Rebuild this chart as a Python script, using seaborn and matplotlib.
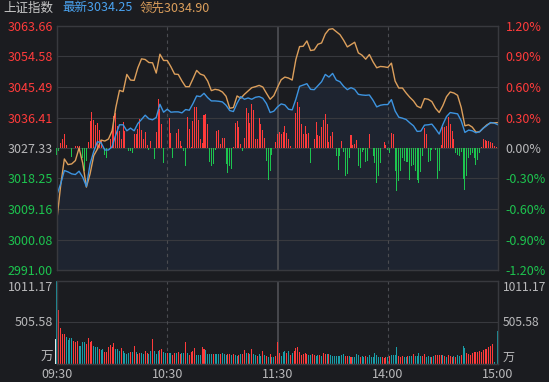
#!/usr/bin/env python3

import matplotlib
matplotlib.use("Agg")
import matplotlib.pyplot as plt
import seaborn as sns


# ------------------ DATA ------------------

prev_close = 3027.33
last_price = 3034.25
lead_price = 3034.90

# minute index 0..240 (09:30-11:30, 13:00-15:00), lines sampled every 2 minutes
price_minutes = list(range(0, 241, 2))

price = [
    3013.51, 3016.67, 3020.62, 3020.22, 3019.63, 3019.43, 3020.42, 3018.64, 3015.88, 3022.59,
    3026.34, 3029.21, 3028.91, 3026.74, 3026.74, 3027.72, 3031.28, 3034.24, 3034.24, 3032.46,
    3033.25, 3032.46, 3034.63, 3035.82, 3037.10, 3036.02, 3035.72, 3036.41, 3040.36, 3037.99,
    3038.88, 3037.99, 3038.09, 3038.09, 3037.79, 3038.78, 3038.58, 3040.56, 3042.83, 3042.63,
    3043.62, 3042.33, 3041.35, 3041.35, 3041.25, 3041.05, 3040.06, 3038.48, 3038.19, 3040.65,
    3042.63, 3041.84, 3042.23, 3041.84, 3042.43, 3042.63, 3042.14, 3040.56, 3037.89, 3038.29,
    3039.57, 3040.46, 3040.16, 3038.88, 3038.68, 3041.84, 3045.69, 3046.08, 3046.48, 3044.80,
    3044.70, 3045.89, 3047.07, 3049.24, 3048.45, 3049.54, 3047.56, 3047.07, 3045.69, 3044.70,
    3045.29, 3044.80, 3043.32, 3043.12, 3043.02, 3043.12, 3041.54, 3039.57, 3040.06, 3040.26,
    3040.26, 3041.74, 3038.38, 3036.51, 3036.21, 3035.82, 3034.83, 3033.94, 3032.27, 3032.36,
    3034.14, 3034.24, 3034.44, 3033.05, 3031.48, 3034.34, 3036.71, 3037.89, 3037.69, 3037.50,
    3035.42, 3031.97, 3032.66, 3032.46, 3031.87, 3032.17, 3033.25, 3034.04, 3034.93, 3034.73,
    3034.25,
]

lead = [
    3006.31, 3016.18, 3024.07, 3022.39, 3022.59, 3023.58, 3027.33, 3022.79, 3015.68, 3019.63,
    3025.06, 3027.03, 3029.70, 3029.40, 3029.99, 3032.46, 3039.37, 3044.50, 3044.11, 3049.24,
    3047.56, 3047.46, 3051.22, 3053.88, 3053.68, 3052.79, 3052.70, 3049.64, 3055.26, 3053.39,
    3053.39, 3051.51, 3049.34, 3049.24, 3047.27, 3045.59, 3045.59, 3047.96, 3050.43, 3049.34,
    3048.95, 3047.27, 3044.41, 3044.80, 3044.60, 3044.01, 3042.73, 3039.17, 3039.37, 3042.83,
    3042.14, 3043.32, 3044.31, 3045.29, 3045.59, 3045.98, 3045.49, 3043.62, 3041.84, 3042.92,
    3045.39, 3047.66, 3048.45, 3048.16, 3047.56, 3053.68, 3057.53, 3057.63, 3059.21, 3056.35,
    3056.55, 3058.22, 3058.62, 3061.28, 3062.66, 3062.86, 3061.97, 3061.09, 3059.41, 3057.43,
    3058.12, 3058.82, 3055.66, 3054.97, 3053.78, 3055.16, 3052.99, 3051.22, 3051.61, 3051.51,
    3051.31, 3052.60, 3047.27, 3045.19, 3045.19, 3043.71, 3042.43, 3041.35, 3039.77, 3039.27,
    3042.04, 3041.84, 3041.15, 3039.17, 3037.89, 3039.96, 3042.63, 3044.01, 3043.71, 3043.02,
    3039.37, 3033.94, 3034.24, 3033.55, 3032.07, 3032.17, 3033.25, 3034.24, 3034.83, 3034.83,
    3034.90,
]

# buy/sell strength bars around the zero line, one per minute
power = [
    -20, -8, 14, 27, 42, 10, 0, 0, -26, 0,
    5, 6, 5, 0, -30, -68, -40, 17, 80, 107,
    84, 70, 75, 54, 24, 0, -20, -30, 0, 27,
    60, 97, 104, 67, 50, 27, 77, 50, 0, -8,
    -8, -15, 42, 42, 57, 87, 54, 27, 47, 10,
    -5, 20, 0, -32, 47, 147, 117, 72, -45, 0,
    0, 90, 45, -30, 0, 44, 57, 20, 7, -8,
    -55, 92, 57, 4, 80, 122, 122, 84, 27, 14,
    100, 102, 72, -42, -55, -48, -5, 52, 54, 12,
    30, 30, -48, -75, -55, -62, 3, 74, 80, 62,
    12, -8, 30, 120, 104, 74, 132, 114, 27, 27,
    90, 72, 54, 30, -38, -95, -70, -20, 0, 17,
    42, 47, 42, 47, 67, 45, 27, 7, 0, 0,
    104, 137, 122, 72, 42, 67, 42, 44, -45, 0,
    27, 77, 40, 37, 62, 84, 102, 72, 17, 37,
    47, 0, -25, -65, -25, 20, -12, -83, -78, -30,
    39, 10, 12, 24, -55, -60, -12, -5, -42, -40,
    42, 0, -25, -45, -105, -85, -45, 0, 17, 10,
    -5, -15, 44, 42, -70, -130, -98, -70, -30, -40,
    -43, -42, -95, -55, -52, -70, -95, -105, -72, -25,
    60, 42, -42, -40, -5, 0, -5, -92, -70, 10,
    62, 64, 67, 92, 72, 50, 27, -15, -22, -25,
    -12, -92, -125, -85, -30, -22, -15, -30, -52, -35,
    -15, 2, 27, 24, 22, 20, 17, 14, 7, 4,
    0,
]

# volume per minute (万), r = up minute, t = down minute
volume = [
    1011, 655, 437, 360, 360, 332, 291, 311, 320, 279,
    271, 279, 218, 218, 267, 267, 243, 315, 271, 283,
    218, 210, 202, 178, 170, 186, 146, 146, 202, 235,
    210, 251, 182, 182, 158, 190, 158, 138, 121, 129,
    146, 146, 218, 146, 121, 129, 129, 121, 162, 129,
    121, 162, 303, 154, 121, 162, 170, 178, 146, 138,
    129, 138, 129, 109, 138, 138, 146, 121, 129, 138,
    267, 129, 109, 142, 158, 190, 109, 109, 113, 206,
    186, 170, 121, 121, 117, 125, 117, 117, 125, 125,
    129, 117, 113, 125, 125, 105, 125, 109, 97, 109,
    121, 121, 170, 129, 129, 121, 178, 121, 113, 101,
    121, 97, 154, 105, 97, 89, 117, 89, 89, 100,
    271, 129, 97, 146, 162, 129, 162, 109, 129, 158,
    190, 202, 142, 109, 121, 129, 117, 109, 109, 117,
    109, 101, 109, 113, 101, 129, 121, 117, 121, 109,
    97, 97, 97, 101, 97, 109, 121, 97, 97, 97,
    89, 89, 89, 121, 109, 89, 97, 81, 97, 81,
    105, 81, 89, 129, 109, 89, 89, 81, 73, 81,
    89, 97, 109, 109, 109, 210, 97, 89, 97, 89,
    89, 101, 93, 93, 117, 97, 93, 129, 97, 97,
    117, 89, 97, 89, 89, 97, 105, 105, 113, 109,
    109, 97, 89, 105, 97, 89, 97, 89, 105, 97,
    109, 218, 194, 129, 121, 109, 129, 142, 146, 150,
    158, 150, 170, 178, 182, 202, 218, 239, 20, 0,
    405,
]

vol_dir = (
    "trrrrttttr" "rrttttrrrr" "tttrttrrrr" "rrtttrtttt" "rtrtrrttrr"
    "ttrtttrrtt" "rttrrtrrtt" "rtrrrrtttr" "rttttrtttr" "tttrrtrttr"
    "trrtrtrttr" "ttrtrtrttr" "rrtttrtrtr" "rrrrrrrttr" "rttrtrrtrt"
    "tttttttrrt" "rttttrttrt" "tttttttrrr" "trttttrrrt" "trttrttttr"
    "rtttrtrrrr" "trtrrrtrtt" "rttrrrrrrr" "rrrrrrrrtt" "t"
)

auction_volume = 303

price_ticks = [3063.66, 3054.58, 3045.49, 3036.41, 3027.33,
               3018.25, 3009.16, 3000.08, 2991.00]
pct_labels = ["1.20%", "0.90%", "0.60%", "0.30%", "0.00%",
              "-0.30%", "-0.60%", "-0.90%", "-1.20%"]
vol_ticks = [1011.17, 505.58, 0]
vol_labels = ["1011.17", "505.58", "万"]
time_ticks = [0, 60, 120, 180, 240]
time_labels = ["09:30", "10:30", "11:30", "14:00", "15:00"]


# ------------------ STYLE ------------------

BG = "#1b1c20"
FILL = "#1e2430"
GRID = "#38393e"
SEP = "#4b4c51"
RED = "#ff3b3b"
GREEN = "#1dc44f"
TEAL = "#1a9ea8"
BLUE = "#3d94e0"
ORANGE = "#dc9f5c"
TEXT = "#b9b9bb"

sns.set_style("dark", {
    "axes.facecolor": BG,
    "figure.facecolor": BG,
    "axes.edgecolor": GRID,
    "axes.grid": False,
})
plt.rcParams["font.family"] = ["Noto Sans CJK SC", "DejaVu Sans"]
plt.rcParams["font.size"] = 9


def level_color(v):
    if abs(v - prev_close) < 0.005:
        return TEXT
    return RED if v > prev_close else GREEN


def style_spines(a):
    for s in a.spines.values():
        s.set_color(GRID)
        s.set_linewidth(0.9)


def va_for(v):
    if v == vol_ticks[0]:
        return "top"
    if v == 0:
        return "bottom"
    return "center"


# ------------------ PLOTTING ------------------

fig = plt.figure(figsize=(5.49, 3.82), dpi=100)

# ---------------- price panel ----------------
ax = fig.add_axes([57 / 549, 112 / 382, 441 / 549, 244 / 382])
ax.set_xlim(0, 240)
ax.set_ylim(price_ticks[-1], price_ticks[0])
ax.fill_between(price_minutes, price, price_ticks[-1], color=FILL, lw=0, zorder=0.5)

for v in price_ticks[1:-1]:
    ax.axhline(v, color=GRID, lw=0.8, zorder=1)
for t in (60, 180):
    ax.axvline(t, color=SEP, lw=0.8, ls=(0, (3, 3)), zorder=1)
ax.axvline(120, color=SEP, lw=1.3, zorder=1)

ax.set_xticks([])
ax.set_yticks(price_ticks)
ax.set_yticklabels([f"{v:.2f}" for v in price_ticks])
for lab, v in zip(ax.get_yticklabels(), price_ticks):
    lab.set_color(level_color(v))
ax.tick_params(axis="y", length=0, pad=3, labelsize=9)
style_spines(ax)

# strength bars on their own scale
axb = ax.twinx()
axb.set_ylim(-366, 366)
axb.bar(range(len(power)), power, width=0.55, linewidth=0, antialiased=False,
        color=[RED if p > 0 else GREEN for p in power], clip_on=False)
axb.set_axis_off()

# lines on top
axl = ax.twinx()
sns.lineplot(x=price_minutes, y=lead, ax=axl, color=ORANGE, linewidth=1.0)
sns.lineplot(x=price_minutes, y=price, ax=axl, color=BLUE, linewidth=1.0)
axl.set_xlim(0, 240)
axl.set_ylim(price_ticks[-1], price_ticks[0])
axl.set_ylabel("")
axl.set_xlabel("")
axl.set_yticks(price_ticks)
axl.set_yticklabels(pct_labels)
for lab, v in zip(axl.get_yticklabels(), price_ticks):
    lab.set_color(level_color(v))
axl.tick_params(axis="y", length=0, pad=5.5, labelsize=9)
style_spines(axl)

# ---------------- volume panel ----------------
axv = fig.add_axes([57 / 549, 18 / 382, 441 / 549, 83.3 / 382])
axv.set_xlim(0, 240)
axv.set_ylim(0, vol_ticks[0])

axv.axhline(vol_ticks[1], color=GRID, lw=0.8, zorder=1)
for t in (60, 180):
    axv.axvline(t, color=SEP, lw=0.8, ls=(0, (3, 3)), zorder=1)
axv.axvline(120, color=SEP, lw=1.3, zorder=1)

axv.bar(range(len(volume)), volume, width=0.55, linewidth=0, antialiased=False,
        color=[RED if d == "r" else TEAL for d in vol_dir], clip_on=False, zorder=2)
axv.bar(-0.75, auction_volume, width=0.55, linewidth=0, antialiased=False,
        color="#e6e6e6", clip_on=False, zorder=2)

axv.set_yticks(vol_ticks)
axv.set_yticklabels(vol_labels)
axv.tick_params(axis="y", length=0, pad=3, labelsize=9, colors=TEXT)
for lab, v in zip(axv.get_yticklabels(), vol_ticks):
    lab.set_va(va_for(v))

axv.set_xticks(time_ticks)
axv.set_xticklabels(time_labels)
axv.tick_params(axis="x", length=0, pad=3, labelsize=9, colors=TEXT)
style_spines(axv)

# right-hand volume labels
axv2 = axv.twinx()
axv2.set_ylim(0, vol_ticks[0])
axv2.set_yticks(vol_ticks)
axv2.set_yticklabels(vol_labels)
axv2.tick_params(axis="y", length=0, pad=3.5, labelsize=8.7, colors=TEXT)
for lab, v in zip(axv2.get_yticklabels(), vol_ticks):
    lab.set_va(va_for(v))
style_spines(axv2)

# ---------------- header ----------------
fig.text(3 / 549, 1 - 8 / 382, "上证指数", color="#c8c8c8", va="center", fontsize=9)
fig.text(62 / 549, 1 - 8 / 382, f"最新{last_price:.2f}", color="#4aa3f0", va="center", fontsize=9)
fig.text(140 / 549, 1 - 8 / 382, f"领先{lead_price:.2f}", color=ORANGE, va="center", fontsize=9)

fig.savefig("out.png", dpi=100, facecolor=BG)
plt.close(fig)
